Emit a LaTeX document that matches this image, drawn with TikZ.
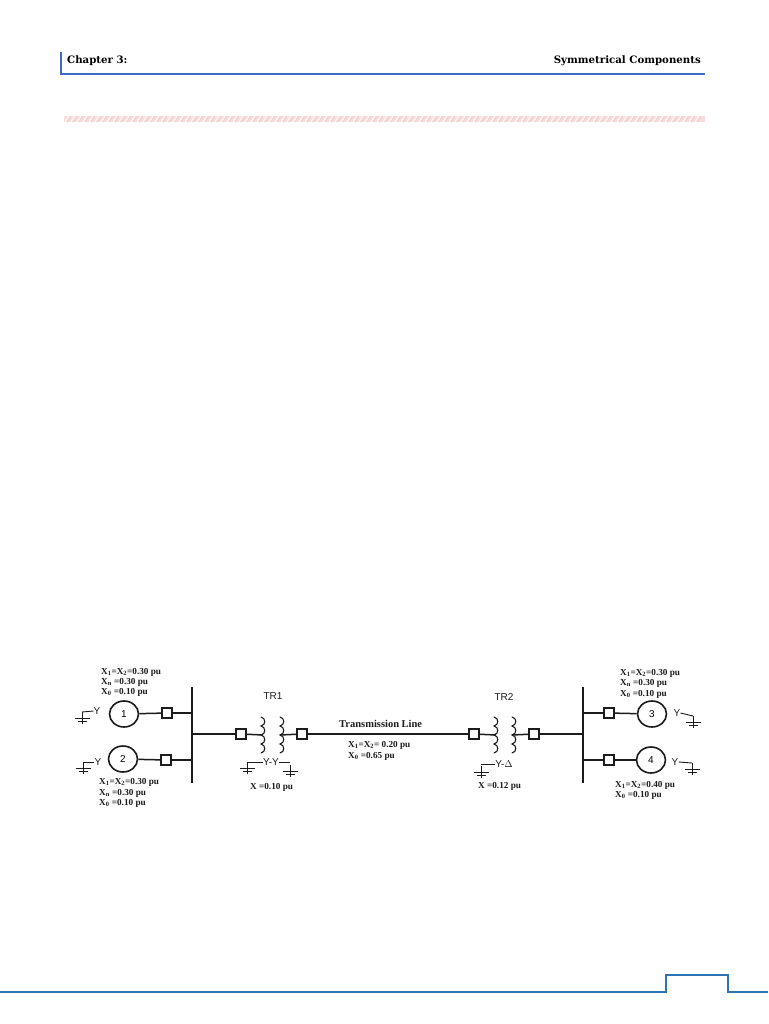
\documentclass[tikz,border=0pt]{standalone}
\usepackage{fontspec}
\setmainfont{Liberation Serif}
\newfontfamily\headfont{DejaVu Serif}
\newfontfamily\labfont{Liberation Sans}
\usetikzlibrary{shapes.geometric}
\definecolor{hblue}{HTML}{3A6CC4}
\definecolor{fblue}{HTML}{2E74B5}
\definecolor{strip}{HTML}{F5CFCF}
\definecolor{ink}{HTML}{1C1C1C}
\newcommand{\Xs}[1]{X\textsubscript{#1}}
\tikzset{
  wire/.style={draw=ink,line width=1.5pt},
  thin wire/.style={draw=ink,line width=0.9pt},
  busbar/.style={draw=ink,line width=1.8pt},
  sq/.style={draw=ink,line width=1.6pt,fill=white,minimum size=10pt,inner sep=0pt,rectangle},
  gen/.style={draw=ink,line width=1.6pt,fill=white,ellipse,minimum width=29pt,minimum height=26pt,inner sep=0pt,font=\labfont\fontsize{10}{10}\selectfont},
  val/.style={inner sep=0pt,anchor=west,text=ink,font=\bfseries\fontsize{9.2}{9.2}\selectfont},
  sym/.style={inner sep=0pt,text=ink,font=\labfont\fontsize{10}{10}\selectfont},
  head/.style={inner sep=0pt,text=black,font=\headfont\bfseries\fontsize{10.2}{10.2}\selectfont},
  coilpic/.pic={
    \draw[draw=ink,line width=1.1pt,line cap=round]
      (0,0) .. controls (5,1) and (5,8) .. (0,9)
      .. controls (5,10) and (5,17) .. (0,18)
      .. controls (5,19) and (5,26) .. (0,27)
      .. controls (5,28) and (5,35) .. (0,36);
  },
  earth/.pic={
    \draw[thin wire] (0,0) -- (0,12);
    \draw[thin wire] (-7.5,6) -- (7.5,6);
    \draw[thin wire] (-4.5,9) -- (4.5,9);
  }
}
\begin{document}
\begin{tikzpicture}[x=1pt,y=-1pt]
\useasboundingbox (0,0) rectangle (768,1024);
\fill[white] (0,0) rectangle (768,1024);
% header
\coordinate (ha) at (61,52);
\coordinate (hb) at (61,74);
\coordinate (hc) at (705,74);
\draw[hblue,line width=2.4pt,line join=miter] (ha) -- (hb) -- (hc);
\node[head,anchor=west] (chap) at (67,61) {Chapter 3:};
\node[head,anchor=east] (symm) at (701,61) {Symmetrical Components};
% pink strip
\fill[strip!70] (64,116) rectangle (705,122);
\foreach \i in {0,...,105} {
  \draw[white,line width=0.9pt] ({65+\i*6},122) -- ({69+\i*6},116);
  \draw[strip,line width=1pt] ({67+\i*6},122) -- ({71+\i*6},116);
}
% footer
\coordinate (fa) at (0,992);
\coordinate (fb) at (666,992);
\coordinate (fc) at (666,975);
\coordinate (fd) at (728,975);
\coordinate (fe) at (728,992);
\coordinate (ff) at (768,992);
\draw[fblue,line width=2.4pt,line join=miter] (fa) -- (fb) -- (fc) -- (fd) -- (fe) -- (ff);
% buses
\coordinate (busLt) at (192,687);
\coordinate (busLb) at (192,783);
\coordinate (busRt) at (583,687);
\coordinate (busRb) at (583,783);
\draw[busbar] (busLt) -- (busLb);
\draw[busbar] (busRt) -- (busRb);
% generators and breakers
\node[gen] (g1) at (124,714) {1};
\node[gen] (g2) at (123,759) {2};
\node[gen] (g3) at (652,714) {3};
\node[gen] (g4) at (651,760) {4};
\node[sq] (s1) at (167,713) {};
\node[sq] (s2) at (166,760) {};
\node[sq] (s3) at (609,713) {};
\node[sq] (s4) at (609,760) {};
\draw[wire] (g1) -- (s1);
\draw[wire] (s1) -- (s1 -| busLt);
\draw[wire] (g2) -- (s2);
\draw[wire] (s2) -- (s2 -| busLt);
\draw[wire] (s3) -- (g3);
\draw[wire] (s3) -- (s3 -| busRt);
\draw[wire] (s4) -- (g4);
\draw[wire] (s4) -- (s4 -| busRt);
% transformers
\node[sq] (t1a) at (241,734) {};
\node[sq] (t1b) at (302,734) {};
\node[sq] (t2a) at (474,734) {};
\node[sq] (t2b) at (534,734) {};
\coordinate (c1a) at (263,735);
\coordinate (c1b) at (280,735);
\coordinate (c2a) at (496,735);
\coordinate (c2b) at (512,735);
\pic at (261,717) {coilpic};
\pic at (280,717) {coilpic};
\pic at (494,717) {coilpic};
\pic at (512,717) {coilpic};
\draw[wire] (t1a -| busLt) -- (t1a);
\draw[wire] (t1a) -- (c1a);
\draw[wire] (c1b) -- (t1b);
\draw[wire] (t1b) -- (t2a);
\draw[wire] (t2a) -- (c2a);
\draw[wire] (c2b) -- (t2b);
\draw[wire] (t2b) -- (t2b -| busRt);
% grounds
\node[sym] (y1) at (97,711) {Y};
\node[sym] (y2) at (98,762) {Y};
\node[sym] (y3) at (677,713) {Y};
\node[sym] (y4) at (675,762) {Y};
\node[sym] (yy) at (271,762) {Y-Y};
\node[sym] (yd) at (504,764) {Y-$\Delta$};
\coordinate (e1) at (82,712);
\coordinate (e2) at (83,762);
\coordinate (e3) at (693,716);
\coordinate (e4) at (692,763);
\coordinate (e5) at (247,762);
\coordinate (e6) at (290,762);
\coordinate (e7) at (481,764);
\draw[thin wire] (y1.west) -- (e1);
\draw[thin wire] (y2.west) -- (e2);
\draw[thin wire] (y3.east) -- (e3);
\draw[thin wire] (y4.east) -- (e4);
\draw[thin wire] (yy.west) -- (e5);
\draw[thin wire] (yy.east) -- (e6);
\draw[thin wire] (yd.west) -- (e7);
\pic at (e1) {earth};
\pic at (e2) {earth};
\pic at (e3) {earth};
\pic at (e4) {earth};
\pic at (e5) {earth};
\pic at ([yshift=-3pt]e6) {earth};
\pic at ([yshift=-2pt]e7) {earth};
% labels
\node[sym] (tr1) at (273,696) {TR1};
\node[sym] (tr2) at (504,697) {TR2};
\node[val] (a1) at (101,672) {\Xs{1}=\Xs{2}=0.30 pu};
\node[val] (a2) at (101,682) {\Xs{n} =0.30 pu};
\node[val] (a3) at (101,692) {\Xs{0} =0.10 pu};
\node[val] (b1) at (99,782) {\Xs{1}=\Xs{2}=0.30 pu};
\node[val] (b2) at (99,793) {\Xs{n} =0.30 pu};
\node[val] (b3) at (99,803) {\Xs{0} =0.10 pu};
\node[val] (c1) at (620,673) {\Xs{1}=\Xs{2}=0.30 pu};
\node[val] (c2) at (620,683) {\Xs{n} =0.30 pu};
\node[val] (c3) at (620,694) {\Xs{0} =0.10 pu};
\node[val] (d1) at (615,785) {\Xs{1}=\Xs{2}=0.40 pu};
\node[val] (d2) at (615,795) {\Xs{0} =0.10 pu};
\node[val,font=\bfseries\fontsize{10.5}{10.5}\selectfont] (tl) at (339,724) {Transmission Line};
\node[val] (l1) at (348,745) {\Xs{1}=\Xs{2}= 0.20 pu};
\node[val] (l2) at (348,756) {\Xs{0} =0.65 pu};
\node[val] (x1) at (250,787) {X =0.10 pu};
\node[val] (x2) at (478,786) {X =0.12 pu};
\end{tikzpicture}
\end{document}
